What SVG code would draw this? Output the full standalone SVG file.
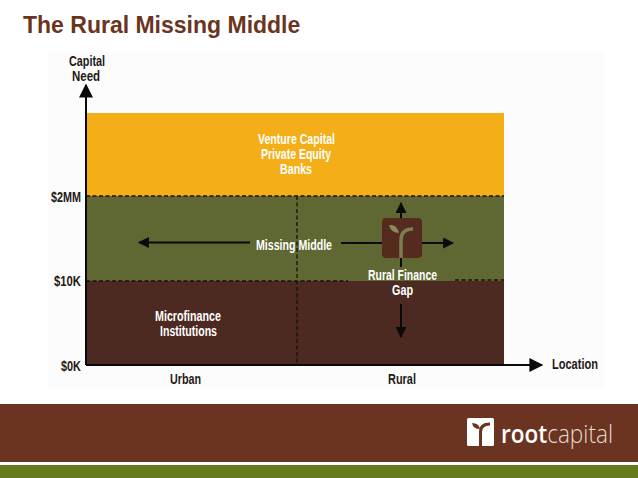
<svg xmlns="http://www.w3.org/2000/svg" width="638" height="478" viewBox="0 0 638 478">
<style>
text{font-family:"Liberation Sans",Arial,sans-serif;font-weight:700;font-size:14px;text-anchor:middle}
.d{fill:#1f1a17}.w{fill:#fff}
.c{stroke:#0a0a0a;stroke-width:2;fill:none}
.dash{stroke:#1a1208;stroke-width:1.3;stroke-dasharray:4 2.5;fill:none}
</style>
<defs>
<marker id="a" viewBox="0 0 10 10" refX="9" refY="5" markerWidth="11" markerHeight="11" markerUnits="userSpaceOnUse" orient="auto-start-reverse"><path d="M0 0L10 5L0 10z" fill="#0a0a0a"/></marker>
<marker id="b" viewBox="0 0 10 10" refX="9" refY="5" markerWidth="16" markerHeight="14" markerUnits="userSpaceOnUse" orient="auto"><path d="M0 0L10 5L0 10z" fill="#0a0a0a"/></marker>
</defs>
<rect width="638" height="478" fill="#fff"/>
<rect x="48" y="52" width="556" height="336" fill="#fcfcfc"/>
<text x="23" y="33" style="font-size:23px;text-anchor:start;fill:#6b3420">The Rural Missing Middle</text>
<g id="band-vc"><rect x="86" y="113" width="418" height="83" fill="#f4ae18"/>
<text class="w" x="296.500" y="144" textLength="77" lengthAdjust="spacingAndGlyphs">Venture Capital</text><text class="w" x="296" y="159" textLength="70" lengthAdjust="spacingAndGlyphs">Private Equity</text><text class="w" x="296" y="174" textLength="32" lengthAdjust="spacingAndGlyphs">Banks</text></g>
<g id="band-mm"><rect x="86" y="196" width="418" height="85" fill="#5f6732"/></g>
<g id="band-mf"><rect x="86" y="281" width="418" height="84" fill="#4c2a21"/>
<text class="w" x="188" y="321" textLength="66" lengthAdjust="spacingAndGlyphs">Microfinance</text><text class="w" x="188.500" y="336" textLength="57" lengthAdjust="spacingAndGlyphs">Institutions</text></g>
<g id="connectors">
<path class="dash" d="M86 196H504M86 281H348M455 280H504M297 196V365"/>
<path class="c" d="M86 365V85" marker-end="url(#b)"/>
<path class="c" d="M86 365H542" marker-end="url(#b)"/>
<path class="c" d="M250 242.500H139" marker-end="url(#a)"/>
<path class="c" d="M341 243H453" marker-end="url(#a)"/>
<path class="c" d="M401 218V203" marker-end="url(#a)"/>
<path class="c" d="M401 258V267M401 304V337" marker-end="url(#a)"/>
</g>
<g id="label-mm"><text class="w" x="294" y="250" textLength="76" lengthAdjust="spacingAndGlyphs">Missing Middle</text></g>
<g id="label-gap"><text class="w" x="402.500" y="280" textLength="69" lengthAdjust="spacingAndGlyphs">Rural Finance</text><text class="w" x="402.500" y="295" textLength="21" lengthAdjust="spacingAndGlyphs">Gap</text></g>
<g id="icon"><rect x="382" y="218" width="40" height="40" rx="4" fill="#552b20"/>
<path d="M401 258V240Q401 229 413 229" stroke="#7c7d4f" stroke-width="3.500" fill="none"/>
<path d="M389 225Q397 224 399 233Q391 233 389 225z" fill="#8a8a5a"/></g>
<g id="axis-labels">
<text class="d" x="87" y="66" textLength="36" lengthAdjust="spacingAndGlyphs">Capital</text><text class="d" x="86" y="81" textLength="28" lengthAdjust="spacingAndGlyphs">Need</text>
<text class="d" x="66" y="202" textLength="30" lengthAdjust="spacingAndGlyphs">$2MM</text><text class="d" x="67.500" y="286" textLength="27" lengthAdjust="spacingAndGlyphs">$10K</text><text class="d" x="71" y="371" textLength="20" lengthAdjust="spacingAndGlyphs">$0K</text>
<text class="d" x="185.500" y="384" textLength="31" lengthAdjust="spacingAndGlyphs">Urban</text><text class="d" x="402" y="384" textLength="28" lengthAdjust="spacingAndGlyphs">Rural</text><text class="d" x="575" y="369" textLength="46" lengthAdjust="spacingAndGlyphs">Location</text>
</g>
<g id="footer"><rect y="404" width="638" height="58" fill="#6b3420"/><rect y="465" width="638" height="13" fill="#667b1b"/>
<rect x="467" y="418" width="27" height="28" rx="1.500" fill="#fff"/>
<path d="M480.500 446V432Q480.500 424 490 424" stroke="#6b3420" stroke-width="3" fill="none"/>
<path d="M472 423Q479 423 480 429Q473 429 472 423z" fill="#6b3420"/>
<text x="501" y="443" style="font-size:25px;text-anchor:start;fill:#e8dcd4;font-family:'Open Sans','Liberation Sans',sans-serif;font-weight:300" textLength="112" lengthAdjust="spacingAndGlyphs"><tspan style="fill:#fff;font-weight:600">root</tspan>capital</text></g>
</svg>
